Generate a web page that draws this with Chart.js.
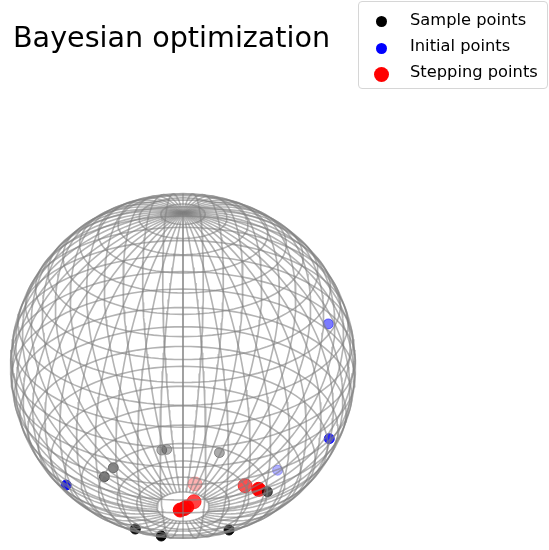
<!DOCTYPE html>
<html>
<head>
<meta charset="utf-8">
<script src="https://cdn.jsdelivr.net/npm/chart.js@4.4.1/dist/chart.umd.min.js"></script>
<style>
  html, body { margin: 0; padding: 0; background: #ffffff; }
  #wrap { position: relative; width: 549px; height: 550px; overflow: hidden; font-family: "DejaVu Sans", "Noto Sans", sans-serif; }
  #c { position: absolute; left: 0; top: 0; }
  #title { position: absolute; left: 13px; top: 23px; font-size: 28.6px; line-height: 1; color: #000; white-space: nowrap; }
  #legend { position: absolute; left: 358px; top: 1px; width: 190px; height: 88px; box-sizing: border-box;
            border: 1px solid #d6d6d6; border-radius: 4px; background: rgba(255,255,255,0.8); }
  .lg-item { position: absolute; left: 0; height: 1px; width: 100%; }
  .lg-mark { position: absolute; border-radius: 50%; }
  .lg-text { position: absolute; left: 51px; font-size: 16.3px; line-height: 1; color: #000; white-space: nowrap; }
</style>
</head>
<body>
<div id="wrap">
  <canvas id="c" width="549" height="550"></canvas>
  <div id="title"></div>
  <div id="legend"></div>
</div>
<script>
// ---------------- data ----------------
const chartTitle = 'Bayesian optimization';
const seriesNames = ['Sample points', 'Initial points', 'Stepping points'];

// points on the unit sphere, latitude / longitude in degrees
const sampleLat = [-61.6, -61.6, -61.3, -60.6, -60.2, -59.6, -60.6, -60.5, -60.0];
const sampleLon = [-164.0, -167.8, 152.2, -120.2, -106.8, 87.1, -34.7, -14.9, 32.6];

const initialLat = [-0.1, -30.0, -44.1, -54.2];
const initialLon = [119.5, 89.8, -73.5, 102.7];

const steppingLat = [-76.5, -66.7, -62.8, -88.5, -88.5, -84.7, -89.5];
const steppingLon = [161.7, 108.0, 94.9, -39.8, 118.9, 133.6, 60.0];

// ---------------- styles / view ----------------
const seriesRGB = ['0,0,0', '0,0,255', '255,0,0'];
const seriesRadius = [5, 5, 7];
const ELEV = 31;          // view elevation, degrees
const DIST = 14;          // perspective eye distance (sphere radius = 1)
const N_MERIDIANS = 50;
const N_RINGS = 24;       // rings below the north pole
const LAT_BOTTOM = -81;   // last ring of the wire frame
const CENTER_X = 183, CENTER_Y = 366, SPHERE_PX = 172;
const W = 549, H = 550;

const ce = Math.cos(ELEV * Math.PI / 180), se = Math.sin(ELEV * Math.PI / 180);
function project(latDeg, lonDeg) {
  const la = latDeg * Math.PI / 180, lo = lonDeg * Math.PI / 180;
  const wx = Math.cos(la) * Math.cos(lo), wy = Math.cos(la) * Math.sin(lo), wz = Math.sin(la);
  const X = wy, Y = -se * wx + ce * wz, D = ce * wx + se * wz;
  const s = DIST / (DIST - D);
  return { x: X * s, y: Y * s, d: D };
}

// ---------------- wire frame ----------------
const wireDatasets = [];
const wireStyle = { showLine: true, pointRadius: 0, pointHoverRadius: 0, borderColor: 'rgba(128,128,128,0.6)',
                    borderWidth: 1.6, tension: 0, order: 1, fill: false };
const latStep = (90 - LAT_BOTTOM) / N_RINGS;
for (let k = 1; k <= N_RINGS; k++) {
  const lat = 90 - k * latStep;
  const pts = [];
  for (let lo = 0; lo <= 360; lo += 3) { const p = project(lat, lo); pts.push({ x: p.x, y: p.y }); }
  wireDatasets.push(Object.assign({ data: pts }, wireStyle));
}
for (let m = 0; m < N_MERIDIANS; m++) {
  const lon = m * 360 / N_MERIDIANS;
  const pts = [];
  const steps = 90;
  for (let i = 0; i <= steps; i++) {
    const lat = 90 - i * (90 - LAT_BOTTOM) / steps;
    const p = project(lat, lon); pts.push({ x: p.x, y: p.y });
  }
  wireDatasets.push(Object.assign({ data: pts }, wireStyle));
}

// ---------------- scatter series with depth shading ----------------
function scatterDataset(lats, lons, idx) {
  const proj = lats.map((la, i) => project(la, lons[i]));
  const ds = proj.map(p => p.d);
  const dmax = Math.max(...ds), dmin = Math.min(...ds);
  const colors = proj.map(p => {
    const a = dmax === dmin ? 1 : 1 - 0.7 * (dmax - p.d) / (dmax - dmin);
    return 'rgba(' + seriesRGB[idx] + ',' + a.toFixed(3) + ')';
  });
  return {
    label: seriesNames[idx],
    data: proj.map(p => ({ x: p.x, y: p.y })),
    showLine: false,
    pointRadius: seriesRadius[idx],
    pointHoverRadius: seriesRadius[idx],
    backgroundColor: colors,
    borderColor: colors,
    borderWidth: 1,
    order: 2
  };
}
const pointDatasets = [
  scatterDataset(sampleLat, sampleLon, 0),
  scatterDataset(initialLat, initialLon, 1),
  scatterDataset(steppingLat, steppingLon, 2)
];

const chart = new Chart(document.getElementById('c'), {
  type: 'scatter',
  data: { datasets: pointDatasets.concat(wireDatasets) },
  options: {
    responsive: false,
    animation: false,
    events: [],
    layout: { padding: 0, autoPadding: false },
    plugins: { legend: { display: false }, title: { display: false }, tooltip: { enabled: false } },
    scales: {
      x: { type: 'linear', display: false, min: -CENTER_X / SPHERE_PX, max: (W - CENTER_X) / SPHERE_PX },
      y: { type: 'linear', display: false, min: -(H - CENTER_Y) / SPHERE_PX, max: CENTER_Y / SPHERE_PX }
    }
  }
});

// ---------------- title and legend (HTML text) ----------------
document.getElementById('title').textContent = chartTitle;
const legend = document.getElementById('legend');
const rowY = [19.7, 46.3, 72.3];
seriesNames.forEach((name, i) => {
  const item = document.createElement('div');
  item.className = 'lg-item';
  item.style.top = rowY[i] + 'px';
  const mk = document.createElement('div');
  mk.className = 'lg-mark';
  const r = seriesRadius[i] + 0.5;
  mk.style.width = mk.style.height = (2 * r) + 'px';
  mk.style.left = (22 - r) + 'px';
  mk.style.top = (-r) + 'px';
  mk.style.background = 'rgb(' + seriesRGB[i] + ')';
  const tx = document.createElement('div');
  tx.className = 'lg-text';
  tx.style.top = '-10px';
  tx.textContent = name;
  item.appendChild(mk); item.appendChild(tx);
  legend.appendChild(item);
});
</script>
</body>
</html>
